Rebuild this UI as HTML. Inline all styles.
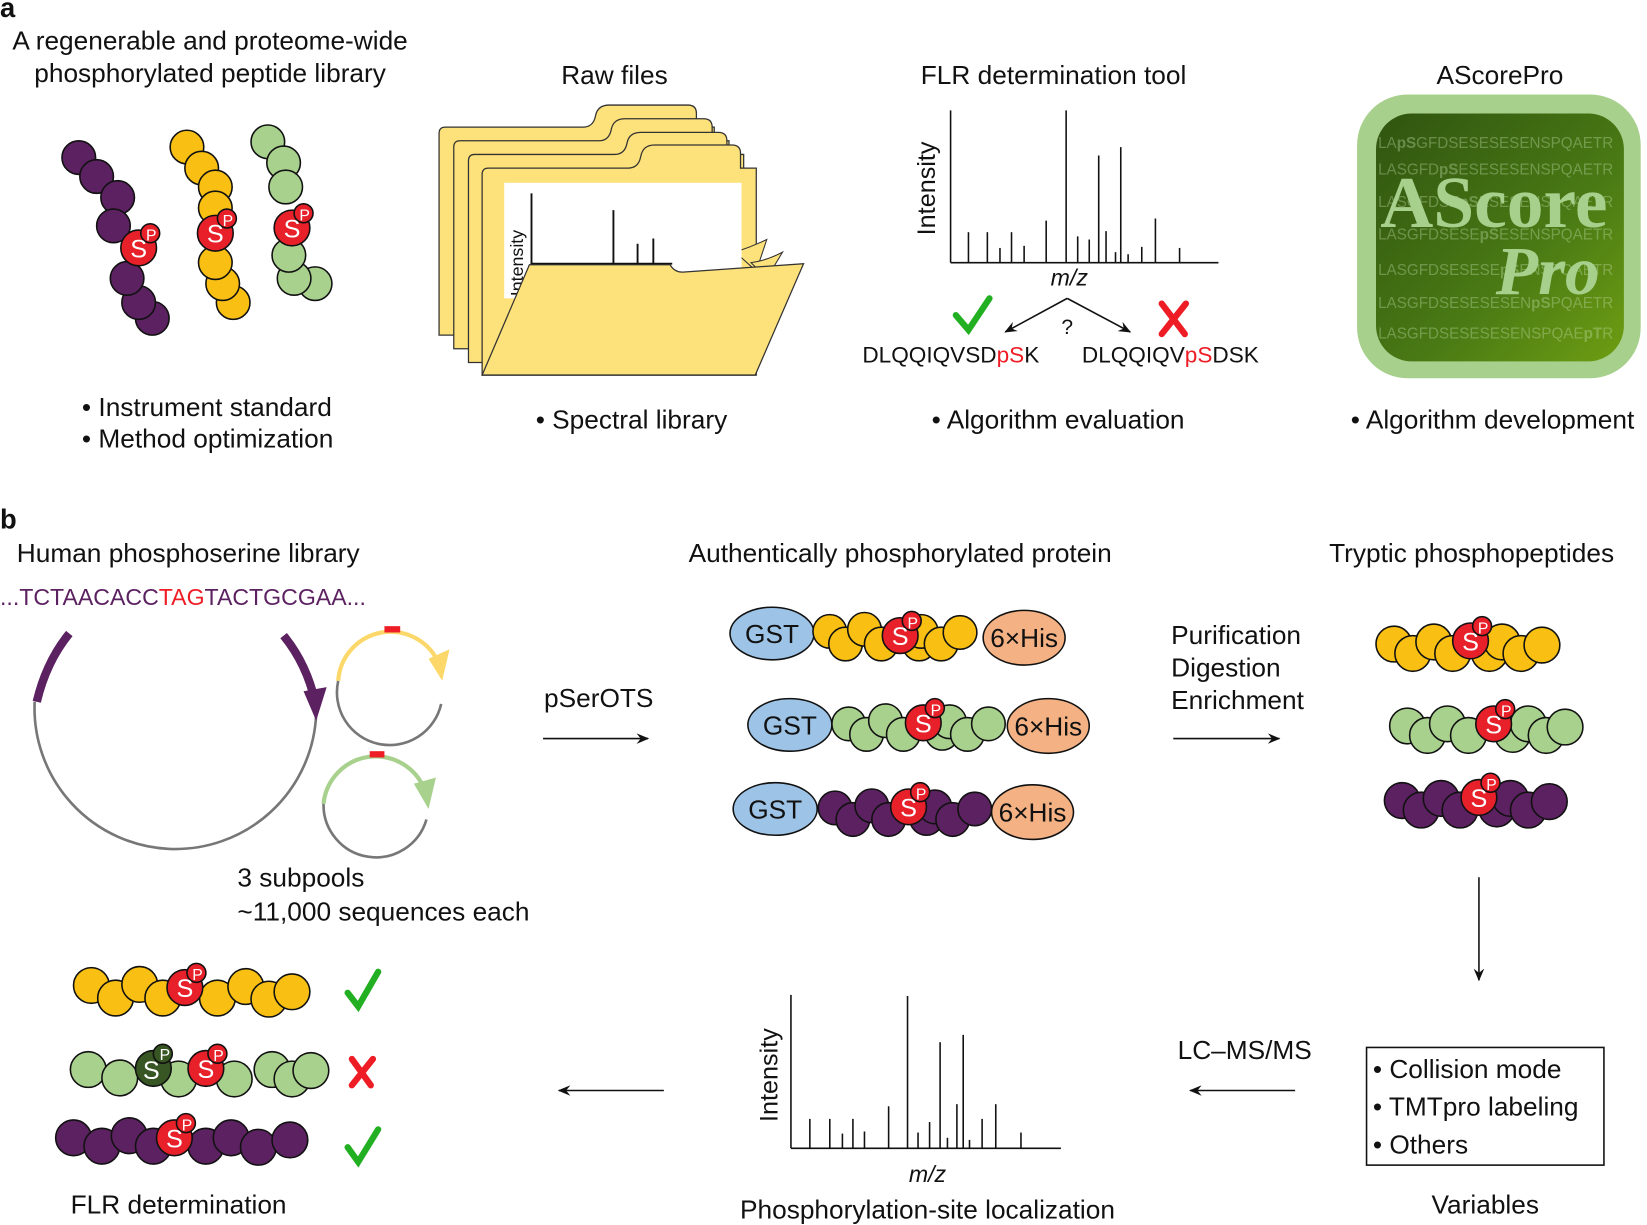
<!DOCTYPE html>
<html><head><meta charset="utf-8"><style>
html,body{margin:0;padding:0;background:#fff;}
svg{display:block;}
text{font-family:"Liberation Sans",Arial,sans-serif;fill:#111;}
</style></head><body>
<svg width="1647" height="1225" viewBox="0 0 1568 1166" preserveAspectRatio="none" xmlns="http://www.w3.org/2000/svg">
<defs>
<marker id="ah" markerWidth="12" markerHeight="10" refX="11" refY="5" orient="auto" markerUnits="userSpaceOnUse"><path d="M0,0 L12,5 L0,10 L4,5 Z" fill="#111"/></marker>
<linearGradient id="gg" x1="0" y1="0" x2="1" y2="1"><stop offset="0" stop-color="#2f5410"/><stop offset="0.6" stop-color="#4a7a14"/><stop offset="1" stop-color="#6e9e12"/></linearGradient>
<g id="sp"><circle r="17" fill="#e8202a" stroke="#111" stroke-width="1.5"/><circle cx="11" cy="-14" r="9" fill="#e8202a" stroke="#111" stroke-width="1.5"/><text x="0" y="9" font-size="24" text-anchor="middle" style="fill:#fff">S</text><text x="12" y="-7" font-size="15" text-anchor="middle" style="fill:#fff">P</text></g>
</defs>

<!-- ===== a ===== -->
<text x="0" y="16" font-size="26" font-weight="bold">a</text>
<text x="200" y="47" font-size="25" text-anchor="middle">A regenerable and proteome-wide</text>
<text x="200" y="78" font-size="25" text-anchor="middle">phosphorylated peptide library</text>

<g stroke="#111" stroke-width="1.5">
<g fill="#5b2160">
<circle cx="75" cy="150" r="16"/><circle cx="92" cy="168" r="16"/><circle cx="112" cy="188" r="16"/><circle cx="108" cy="215" r="16"/><circle cx="145" cy="303" r="16"/><circle cx="132" cy="288" r="16"/><circle cx="121" cy="265" r="16"/>
</g>
<g fill="#f9c013">
<circle cx="178" cy="140" r="16"/><circle cx="192" cy="160" r="16"/><circle cx="205" cy="178" r="16"/><circle cx="205" cy="198" r="16"/><circle cx="222" cy="288" r="16"/><circle cx="212" cy="270" r="16"/><circle cx="205" cy="250" r="16"/>
</g>
<g fill="#a9d18e">
<circle cx="255" cy="135" r="16"/><circle cx="270" cy="155" r="16"/><circle cx="272" cy="178" r="16"/><circle cx="300" cy="270" r="16"/><circle cx="280" cy="265" r="16"/><circle cx="275" cy="243" r="16"/>
</g>
</g>
<use href="#sp" x="132" y="236"/><use href="#sp" x="205" y="222"/><use href="#sp" x="278" y="217"/>

<text x="78" y="396" font-size="25">• Instrument standard</text>
<text x="78" y="426" font-size="25">• Method optimization</text>

<!-- Raw files -->
<text x="585" y="80" font-size="25" text-anchor="middle">Raw files</text>
<g fill="#fde17a" stroke="#333" stroke-width="1.2">
<path d="M418,319 L418,127 Q418,121 424,121 L555,121 Q565,121 567,110 Q569,100 580,100 L655,100 Q663,100 663,108 L663,121 L680,121 L680,319 Z"/>
<path d="M432,332 L432,140 Q432,134 438,134 L570,134 Q580,134 582,123 Q584,113 595,113 L670,113 Q678,113 678,121 L678,134 L694,134 L694,332 Z"/>
<path d="M446,345 L446,153 Q446,147 452,147 L585,147 Q595,147 597,136 Q599,126 610,126 L684,126 Q692,126 692,134 L692,147 L708,147 L708,345 Z"/>
<path d="M459,357 L459,166 Q459,160 465,160 L598,160 Q608,160 610,149 Q612,138 623,138 L697,138 Q705,138 705,146 L705,160 L720,160 L720,357 Z"/>
</g>
<g fill="#fde17a" stroke="#333" stroke-width="1">
<path d="M700,240 Q715,235 730,228 L720,258 Z"/><path d="M715,250 Q730,248 745,240 L730,265 Z"/>
</g>
<rect x="480" y="174" width="226" height="110" fill="#fff"/>
<g stroke="#111" stroke-width="1.8"><line x1="506" y1="184" x2="506" y2="252"/><line x1="505" y1="251" x2="640" y2="251"/><line x1="584" y1="200" x2="584" y2="251"/><line x1="607" y1="232" x2="607" y2="251"/><line x1="622" y1="227" x2="622" y2="251"/></g>
<text x="0" y="0" font-size="17" transform="translate(498,282) rotate(-90)">Intensity</text>
<path d="M504,252 L638,252 Q642,259 650,259 L765,251 L719,357 L459,357 Z" fill="#fde17a" stroke="#333" stroke-width="1.2"/>
<text x="510" y="408" font-size="25">• Spectral library</text>

<!-- FLR tool -->
<text x="1003" y="80" font-size="25" text-anchor="middle">FLR determination tool</text>
<g stroke="#111" stroke-width="1.5">
<line x1="905" y1="105" x2="905" y2="250"/><line x1="905" y1="250" x2="1160" y2="250"/>
<line x1="922" y1="250" x2="922" y2="221"/><line x1="940" y1="250" x2="940" y2="221"/><line x1="952" y1="250" x2="952" y2="236"/><line x1="963" y1="250" x2="963" y2="221"/><line x1="975" y1="250" x2="975" y2="234"/><line x1="996" y1="250" x2="996" y2="210"/><line x1="1015" y1="250" x2="1015" y2="105"/><line x1="1026" y1="250" x2="1026" y2="225"/><line x1="1037" y1="250" x2="1037" y2="228"/><line x1="1046" y1="250" x2="1046" y2="148"/><line x1="1053" y1="250" x2="1053" y2="220"/><line x1="1062" y1="250" x2="1062" y2="240"/><line x1="1067" y1="250" x2="1067" y2="140"/><line x1="1074" y1="250" x2="1074" y2="242"/><line x1="1087" y1="250" x2="1087" y2="235"/><line x1="1100" y1="250" x2="1100" y2="208"/><line x1="1123" y1="250" x2="1123" y2="236"/>
</g>
<text x="0" y="0" font-size="24" transform="translate(890,224) rotate(-90)">Intensity</text>
<text x="1018" y="272" font-size="22" font-style="italic" text-anchor="middle">m/z</text>
<line x1="1016" y1="284" x2="957" y2="316" stroke="#111" stroke-width="1.5" marker-end="url(#ah)"/>
<line x1="1016" y1="284" x2="1076" y2="316" stroke="#111" stroke-width="1.5" marker-end="url(#ah)"/>
<text x="1016" y="318" font-size="20" text-anchor="middle">?</text>
<path d="M910,300 L922,314 L942,284" fill="none" stroke="#22b022" stroke-width="6" stroke-linecap="round"/>
<path d="M1106,289 L1128,318 M1129,289 L1106,318" stroke="#ee1c24" stroke-width="6" stroke-linecap="round"/>
<text x="821" y="345" font-size="21.5">DLQQIQVSD<tspan style="fill:#ee1c24">pS</tspan>K</text>
<text x="1030" y="345" font-size="21.5">DLQQIQV<tspan style="fill:#ee1c24">pS</tspan>DSK</text>
<text x="887" y="408" font-size="25">• Algorithm evaluation</text>

<!-- AScorePro -->
<text x="1428" y="80" font-size="25" text-anchor="middle">AScorePro</text>
<rect x="1292" y="90" width="270" height="270" rx="48" fill="#a8d08d"/>
<rect x="1310" y="108" width="236" height="236" rx="34" fill="url(#gg)"/>
<g font-size="14.5">
<text x="1312" y="141" style="fill:rgba(200,230,180,0.35)">LA<tspan font-weight="bold">pS</tspan>GFDSESESESENSPQAETR</text>
<text x="1312" y="166" style="fill:rgba(200,230,180,0.35)">LASGFD<tspan font-weight="bold">pS</tspan>ESESESENSPQAETR</text>
<text x="1312" y="197" style="fill:rgba(200,230,180,0.35)">LASGFDSE<tspan font-weight="bold">pS</tspan>ESESENSPQAETR</text>
<text x="1312" y="228" style="fill:rgba(200,230,180,0.35)">LASGFDSESE<tspan font-weight="bold">pS</tspan>ESENSPQAETR</text>
<text x="1312" y="262" style="fill:rgba(200,230,180,0.35)">LASGFDSESESE<tspan font-weight="bold">pS</tspan>ENSPQAETR</text>
<text x="1312" y="293" style="fill:rgba(200,230,180,0.35)">LASGFDSESESESEN<tspan font-weight="bold">pS</tspan>PQAETR</text>
<text x="1312" y="322" style="fill:rgba(200,230,180,0.35)">LASGFDSESESESENSPQAE<tspan font-weight="bold">pT</tspan>R</text>
</g>
<text x="1314" y="216" font-size="70" font-weight="bold" style="fill:#a8d08d;font-family:'Liberation Serif',serif">AScore</text>
<text x="1424" y="280" font-size="66" font-weight="bold" font-style="italic" style="fill:#a8d08d;font-family:'Liberation Serif',serif">Pro</text>
<text x="1286" y="408" font-size="25">• Algorithm development</text>

<!-- ===== b ===== -->
<text x="0" y="503" font-size="26" font-weight="bold">b</text>
<text x="16" y="535" font-size="25">Human phosphoserine library</text>
<text x="0" y="576" font-size="22" style="fill:#5b2160">...TCTAACACC<tspan style="fill:#ee1c24">TAG</tspan>TACTGCGAA...</text>
<path d="M33,668 A134,134 0 1 0 301,680" fill="none" stroke="#777" stroke-width="2.5"/>
<path d="M35,668 Q44,630 66,603" fill="none" stroke="#5b2160" stroke-width="8"/>
<path d="M270,605 Q292,632 300,668" fill="none" stroke="#5b2160" stroke-width="8"/>
<path d="M289,658 L311,654 L301,686 Z" fill="#5b2160"/>
<path d="M322,648 A50,50 0 0 0 420,670" fill="none" stroke="#777" stroke-width="2.5"/>
<path d="M322,648 A50,50 0 0 1 418,632" fill="none" stroke="#fcd86a" stroke-width="4"/>
<path d="M408,627 L428,618 L421,648 Z" fill="#fcd86a"/>
<rect x="366" y="596" width="15" height="6" fill="#ee1c24"/>
<path d="M308,765 A50,50 0 0 0 406,780" fill="none" stroke="#777" stroke-width="2.5"/>
<path d="M308,765 A50,50 0 0 1 404,751" fill="none" stroke="#a9d18e" stroke-width="4"/>
<path d="M394,746 L415,740 L408,770 Z" fill="#a9d18e"/>
<rect x="352" y="715" width="14" height="6" fill="#ee1c24"/>
<text x="226" y="844" font-size="25">3 subpools</text>
<text x="226" y="876" font-size="25">~11,000 sequences each</text>

<text x="570" y="673" font-size="25" text-anchor="middle">pSerOTS</text>
<line x1="517" y1="703" x2="617" y2="703" stroke="#111" stroke-width="1.5" marker-end="url(#ah)"/>

<text x="857" y="535" font-size="25" text-anchor="middle">Authentically phosphorylated protein</text>
<g stroke="#111" stroke-width="1.5">
<ellipse cx="735" cy="603" rx="40" ry="25" fill="#9dc3e6"/>
<g fill="#f9c013"><circle cx="790" cy="601" r="16"/><circle cx="805" cy="613" r="16"/><circle cx="823" cy="599" r="16"/><circle cx="839" cy="613" r="16"/><circle cx="875" cy="613" r="16"/><circle cx="877" cy="601" r="16"/><circle cx="896" cy="613" r="16"/><circle cx="914" cy="602" r="16"/></g>
<ellipse cx="975" cy="607" rx="39" ry="26" fill="#f4b183"/>
<ellipse cx="752" cy="690" rx="40" ry="25" fill="#9dc3e6"/>
<g fill="#a9d18e"><circle cx="808" cy="689" r="16"/><circle cx="825" cy="699" r="16"/><circle cx="843" cy="686" r="16"/><circle cx="860" cy="699" r="16"/><circle cx="897" cy="698" r="16"/><circle cx="904" cy="687" r="16"/><circle cx="921" cy="699" r="16"/><circle cx="941" cy="689" r="16"/></g>
<ellipse cx="998" cy="691" rx="39" ry="26" fill="#f4b183"/>
<ellipse cx="738" cy="770" rx="40" ry="25" fill="#9dc3e6"/>
<g fill="#5b2160"><circle cx="795" cy="769" r="16"/><circle cx="812" cy="780" r="16"/><circle cx="830" cy="767" r="16"/><circle cx="846" cy="780" r="16"/><circle cx="882" cy="779" r="16"/><circle cx="890" cy="768" r="16"/><circle cx="907" cy="780" r="16"/><circle cx="928" cy="770" r="16"/></g>
<ellipse cx="983" cy="773" rx="39" ry="26" fill="#f4b183"/>
</g>
<g font-size="25" text-anchor="middle"><text x="735" y="612">GST</text><text x="975" y="616">6×His</text><text x="752" y="699">GST</text><text x="998" y="700">6×His</text><text x="738" y="779">GST</text><text x="983" y="782">6×His</text></g>
<use href="#sp" x="857" y="605"/><use href="#sp" x="879" y="688"/><use href="#sp" x="865" y="768"/>

<text x="1115" y="613" font-size="25">Purification</text>
<text x="1115" y="644" font-size="25">Digestion</text>
<text x="1115" y="675" font-size="25">Enrichment</text>
<line x1="1117" y1="703" x2="1218" y2="703" stroke="#111" stroke-width="1.5" marker-end="url(#ah)"/>

<text x="1401" y="535" font-size="25" text-anchor="middle">Tryptic phosphopeptides</text>
<g stroke="#111" stroke-width="1.5">
<g fill="#f9c013"><circle cx="1327" cy="613" r="17"/><circle cx="1345" cy="622" r="17"/><circle cx="1365" cy="611" r="17"/><circle cx="1383" cy="622" r="17"/><circle cx="1418" cy="622" r="17"/><circle cx="1430" cy="611" r="17"/><circle cx="1448" cy="622" r="17"/><circle cx="1468" cy="614" r="17"/></g>
<g fill="#a9d18e"><circle cx="1340" cy="691" r="17"/><circle cx="1359" cy="700" r="17"/><circle cx="1378" cy="689" r="17"/><circle cx="1398" cy="700" r="17"/><circle cx="1440" cy="699" r="17"/><circle cx="1455" cy="689" r="17"/><circle cx="1472" cy="700" r="17"/><circle cx="1490" cy="692" r="17"/></g>
<g fill="#5b2160"><circle cx="1335" cy="762" r="17"/><circle cx="1353" cy="771" r="17"/><circle cx="1372" cy="760" r="17"/><circle cx="1390" cy="771" r="17"/><circle cx="1425" cy="770" r="17"/><circle cx="1438" cy="760" r="17"/><circle cx="1455" cy="771" r="17"/><circle cx="1475" cy="763" r="17"/></g>
</g>
<use href="#sp" x="1400" y="610"/><use href="#sp" x="1422" y="689"/><use href="#sp" x="1408" y="759"/>

<line x1="1408" y1="835" x2="1408" y2="933" stroke="#111" stroke-width="1.5" marker-end="url(#ah)"/>
<rect x="1301" y="997" width="226" height="112" fill="#fff" stroke="#111" stroke-width="1.5"/>
<text x="1307" y="1026" font-size="25">• Collision mode</text>
<text x="1307" y="1062" font-size="25">• TMTpro labeling</text>
<text x="1307" y="1098" font-size="25">• Others</text>
<text x="1414" y="1155" font-size="25" text-anchor="middle">Variables</text>

<text x="1185" y="1008" font-size="25" text-anchor="middle">LC–MS/MS</text>
<line x1="1233" y1="1038" x2="1133" y2="1038" stroke="#111" stroke-width="1.5" marker-end="url(#ah)"/>

<g stroke="#111" stroke-width="1.5">
<line x1="753" y1="947" x2="753" y2="1093"/><line x1="753" y1="1093" x2="1010" y2="1093"/>
<line x1="771" y1="1093" x2="771" y2="1065"/><line x1="790" y1="1093" x2="790" y2="1065"/><line x1="802" y1="1093" x2="802" y2="1079"/><line x1="812" y1="1093" x2="812" y2="1065"/><line x1="823" y1="1093" x2="823" y2="1077"/><line x1="846" y1="1093" x2="846" y2="1053"/><line x1="864" y1="1093" x2="864" y2="948"/><line x1="874" y1="1093" x2="874" y2="1078"/><line x1="885" y1="1093" x2="885" y2="1068"/><line x1="895" y1="1093" x2="895" y2="992"/><line x1="902" y1="1093" x2="902" y2="1083"/><line x1="911" y1="1093" x2="911" y2="1051"/><line x1="917" y1="1093" x2="917" y2="985"/><line x1="923" y1="1093" x2="923" y2="1085"/><line x1="935" y1="1093" x2="935" y2="1065"/><line x1="948" y1="1093" x2="948" y2="1051"/><line x1="972" y1="1093" x2="972" y2="1078"/>
</g>
<text x="0" y="0" font-size="24" transform="translate(740,1068) rotate(-90)">Intensity</text>
<text x="883" y="1125" font-size="22" font-style="italic" text-anchor="middle">m/z</text>
<text x="883" y="1160" font-size="25" text-anchor="middle">Phosphorylation-site localization</text>

<line x1="632" y1="1038" x2="532" y2="1038" stroke="#111" stroke-width="1.5" marker-end="url(#ah)"/>

<g stroke="#111" stroke-width="1.5">
<g fill="#f9c013"><circle cx="87" cy="938" r="17"/><circle cx="110" cy="950" r="17"/><circle cx="133" cy="937" r="17"/><circle cx="155" cy="950" r="17"/><circle cx="207" cy="950" r="17"/><circle cx="234" cy="939" r="17"/><circle cx="256" cy="951" r="17"/><circle cx="278" cy="944" r="17"/></g>
<g fill="#a9d18e"><circle cx="84" cy="1018" r="17"/><circle cx="114" cy="1026" r="17"/><circle cx="170" cy="1027" r="17"/><circle cx="223" cy="1027" r="17"/><circle cx="259" cy="1018" r="17"/><circle cx="278" cy="1027" r="17"/><circle cx="296" cy="1019" r="17"/></g>
<g fill="#5b2160"><circle cx="70" cy="1083" r="17"/><circle cx="97" cy="1091" r="17"/><circle cx="123" cy="1081" r="17"/><circle cx="146" cy="1091" r="17"/><circle cx="196" cy="1091" r="17"/><circle cx="220" cy="1083" r="17"/><circle cx="246" cy="1092" r="17"/><circle cx="276" cy="1085" r="17"/></g>
</g>
<g><circle cx="146" cy="1017" r="17" fill="#375623" stroke="#111" stroke-width="1.5"/><circle cx="155" cy="1003" r="9" fill="#375623" stroke="#111" stroke-width="1.5"/><text x="144" y="1027" font-size="24" text-anchor="middle" style="fill:#fff">S</text><text x="157" y="1009" font-size="15" text-anchor="middle" style="fill:#fff">P</text></g>
<use href="#sp" x="176" y="940"/><use href="#sp" x="196" y="1017"/><use href="#sp" x="166" y="1083"/>
<path d="M331,945 L341,958 L360,925" fill="none" stroke="#22b022" stroke-width="6" stroke-linecap="round"/>
<path d="M335,1008 L353,1033 M355,1008 L335,1033" stroke="#ee1c24" stroke-width="6" stroke-linecap="round"/>
<path d="M331,1092 L341,1106 L360,1075" fill="none" stroke="#22b022" stroke-width="6" stroke-linecap="round"/>
<text x="170" y="1155" font-size="25" text-anchor="middle">FLR determination</text>
</svg>
</body></html>
